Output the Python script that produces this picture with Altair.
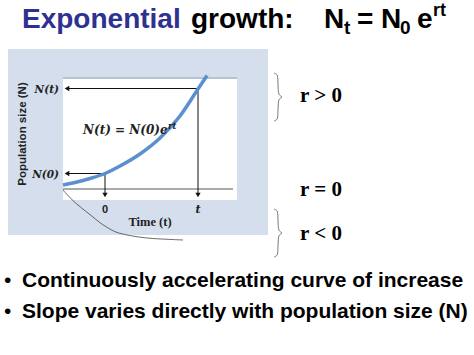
import altair as alt
import pandas as pd

# ---------------- data (canvas units, y grows downward) ----------------
curve_x = [63, 75, 90, 105, 120, 140, 160, 180, 198, 207]
curve_y = [185, 182.5, 178.5, 173.5, 166, 154, 138, 116, 89, 75.5]

pointer_x = [63, 70, 80, 92, 100, 108, 115, 122, 132, 145, 160, 183]
pointer_y = [190, 198, 207, 216, 223, 228, 232, 234, 236, 238, 239, 240]

t0_x, t_x = 105, 198          # time marks "0" and "t"
n0_y, nt_y = 173.5, 88.5      # population marks N(0), N(t)
axis_y = 189

title_parts = ["Exponential", "growth:", "N", "t", "=", "N", "0", "e", "rt"]
bullets = ["Continuously accelerating curve of increase",
           "Slope varies directly with population size (N)"]
r_labels = ["r > 0", "r = 0", "r < 0"]

W, H = 474, 355
xs = alt.Scale(domain=[0, W], range=[0, W], nice=False, zero=False)
ys = alt.Scale(domain=[0, H], range=[0, H], nice=False, zero=False)


def X(f="x"):
    return alt.X(f"{f}:Q", scale=xs, axis=None)


def Y(f="y"):
    return alt.Y(f"{f}:Q", scale=ys, axis=None)


layers = []

# panel background and white plot area
rects = pd.DataFrame([
    {"x": 8, "x2": 268, "y": 49, "y2": 235, "c": "#d4deec"},
    {"x": 63, "x2": 237, "y": 78, "y2": 200, "c": "#ffffff"},
])
layers.append(alt.Chart(rects).mark_rect().encode(
    x=X(), x2="x2:Q", y=Y(), y2="y2:Q",
    color=alt.Color("c:N", scale=None)))

# shadow line on top of white area
layers.append(alt.Chart(pd.DataFrame({"x": [63], "x2": [237], "y": [78]}))
              .mark_rule(color="#b9c3d0", strokeWidth=2)
              .encode(x=X(), x2="x2:Q", y=Y()))

# time axis line
layers.append(alt.Chart(pd.DataFrame({"x": [63], "x2": [233], "y": [axis_y]}))
              .mark_rule(color="#555555", strokeWidth=1)
              .encode(x=X(), x2="x2:Q", y=Y()))

# guide lines (horizontal to N axis, vertical to t axis)
hlines = pd.DataFrame({"x": [68, 68], "x2": [t_x, t0_x], "y": [nt_y, n0_y]})
layers.append(alt.Chart(hlines).mark_rule(color="#111111", strokeWidth=1)
              .encode(x=X(), x2="x2:Q", y=Y()))
vlines = pd.DataFrame({"x": [t_x, t0_x], "y": [nt_y, n0_y], "y2": [194, 194]})
layers.append(alt.Chart(vlines).mark_rule(color="#111111", strokeWidth=1)
              .encode(x=X(), y=Y(), y2="y2:Q"))

# arrowheads
left_heads = pd.DataFrame({"x": [67, 67], "y": [nt_y, n0_y]})
layers.append(alt.Chart(left_heads).mark_point(shape="triangle-left", filled=True,
                                                color="#111111", size=28, opacity=1)
              .encode(x=X(), y=Y()))
down_heads = pd.DataFrame({"x": [t_x, t0_x], "y": [195, 195]})
layers.append(alt.Chart(down_heads).mark_point(shape="triangle-down", filled=True,
                                                color="#111111", size=28, opacity=1)
              .encode(x=X(), y=Y()))

# exponential curve
curve = pd.DataFrame({"x": curve_x, "y": curve_y})
layers.append(alt.Chart(curve).mark_line(color="#5b8fd0", strokeWidth=3.5,
                                         interpolate="monotone")
              .encode(x=X(), y=Y()))

# thin pointer line
pointer = pd.DataFrame({"x": pointer_x, "y": pointer_y, "o": range(len(pointer_x))})
layers.append(alt.Chart(pointer).mark_line(color="#444444", strokeWidth=0.8,
                                           interpolate="basis")
              .encode(x=X(), y=Y(), order="o:Q"))

# braces
brace_dx = [274, 277, 278, 278, 280, 283, 280, 278, 278, 277, 274]
brace_dy = [0, 1, 4, 20, 23, 24, 25, 28, 44, 47, 48]
brace_rows = []
for b, top in enumerate([73, 209]):
    for i, (bx, by) in enumerate(zip(brace_dx, brace_dy)):
        brace_rows.append({"x": bx, "y": top + by, "o": i, "b": b})
braces = pd.DataFrame(brace_rows)
layers.append(alt.Chart(braces).mark_line(color="#7a7a7a", strokeWidth=1,
                                          interpolate="basis")
              .encode(x=X(), y=Y(), order="o:Q", detail="b:N"))


def text_layer(df, **kw):
    base = dict(align="left", baseline="alphabetic")
    base.update(kw)
    return alt.Chart(df).mark_text(**base).encode(x=X(), y=Y(), text="t:N")


SANS = "Liberation Sans"
SERIF = "Liberation Serif"
ISERIF = "DejaVu Serif"

# title
layers.append(text_layer(pd.DataFrame({"x": [22], "y": [28], "t": [title_parts[0]]}),
                         font=SANS, fontSize=28, fontWeight="bold", color="#2e3192"))
big = pd.DataFrame({"x": [191, 324, 357, 381, 417],
                    "y": [28, 28, 28, 28, 28],
                    "t": [title_parts[1], title_parts[2], title_parts[4],
                          title_parts[5], title_parts[7]]})
layers.append(text_layer(big, font=SANS, fontSize=28, fontWeight="bold", color="#000000"))
small = pd.DataFrame({"x": [344, 400], "y": [34, 34],
                      "t": [title_parts[3], title_parts[6]]})
layers.append(text_layer(small, font=SANS, fontSize=19, fontWeight="bold", color="#000000"))
layers.append(text_layer(pd.DataFrame({"x": [433], "y": [16], "t": [title_parts[8]]}),
                         font=SANS, fontSize=18, fontWeight="bold", color="#000000"))

# bullets
bl = pd.DataFrame({"x": [22, 22], "y": [287, 318], "t": bullets})
layers.append(text_layer(bl, font=SANS, fontSize=21, fontWeight="bold", color="#000000"))
bd = pd.DataFrame({"x": [4, 4], "y": [287, 318], "t": ["•", "•"]})
layers.append(text_layer(bd, font=SANS, fontSize=21, fontWeight="normal", color="#000000"))

# r labels
rl = pd.DataFrame({"x": [300, 300, 300], "y": [102, 196, 240], "t": r_labels})
layers.append(text_layer(rl, font=SERIF, fontSize=21, fontWeight="bold", color="#000000"))

# inner chart labels
nl = pd.DataFrame({"x": [59, 59], "y": [nt_y + 4, n0_y + 4], "t": ["N(t)", "N(0)"]})
layers.append(text_layer(nl, align="right", font=ISERIF, fontSize=10.5,
                         fontWeight="bold", fontStyle="italic", color="#222222"))
layers.append(text_layer(pd.DataFrame({"x": [t0_x], "y": [213], "t": ["0"]}),
                         align="center", font=SANS, fontSize=11, fontWeight="bold",
                         color="#222222"))
layers.append(text_layer(pd.DataFrame({"x": [t_x], "y": [213], "t": ["t"]}),
                         align="center", font=ISERIF, fontSize=11, fontWeight="bold",
                         fontStyle="italic", color="#222222"))
layers.append(text_layer(pd.DataFrame({"x": [150], "y": [226], "t": ["Time (t)"]}),
                         align="center", font=SERIF, fontSize=12.5, fontWeight="bold",
                         color="#222222"))
layers.append(text_layer(pd.DataFrame({"x": [26], "y": [134], "t": ["Population size (N)"]}),
                         align="center", angle=270, font=SANS, fontSize=11.5,
                         fontWeight="bold", color="#222222"))
layers.append(text_layer(pd.DataFrame({"x": [83], "y": [134], "t": ["N(t) = N(0)e"]}),
                         font=ISERIF, fontSize=12, fontWeight="bold",
                         fontStyle="italic", color="#222222"))
layers.append(text_layer(pd.DataFrame({"x": [168], "y": [129], "t": ["rt"]}),
                         font=ISERIF, fontSize=8.5, fontWeight="bold",
                         fontStyle="italic", color="#222222"))

chart = alt.layer(*layers).properties(
    width=W, height=H,
    autosize=alt.AutoSizeParams(type="none"),
    padding=0,
    background="#ffffff",
).configure_view(stroke=None)

chart.save("out.html", embed_options={"renderer": "svg", "actions": False})
